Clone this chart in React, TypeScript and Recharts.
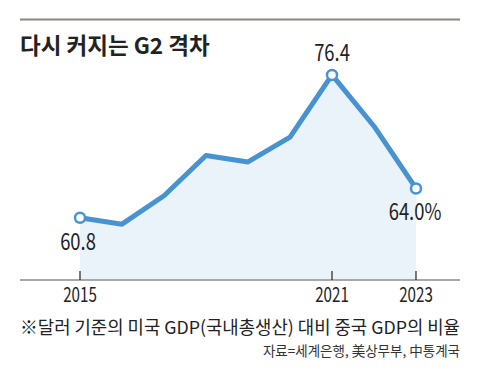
import React from "react";
import { ComposedChart, Area, XAxis, YAxis, LabelList } from "recharts";

const years = [2015, 2016, 2017, 2018, 2019, 2020, 2021, 2022, 2023];
const ratio = [60.8, 60.1, 63.2, 67.6, 66.9, 69.6, 76.4, 70.8, 64.0];
const valueLabels = ["60.8", "", "", "", "", "", "76.4", "", "64.0%"];
const markerYears = [2015, 2021, 2023];
const tickYears = [2015, 2021, 2023];

const title = "다시 커지는 G2 격차";
const footnote = "※달러 기준의 미국 GDP(국내총생산) 대비 중국 GDP의 비율";
const source = "자료=세계은행, 美상무부, 中통계국";

const data = years.map((y, i) => ({ year: y, value: ratio[i], label: valueLabels[i] }));

const BLUE = "#4793d1";
const NUM_FONT = "'Noto Sans CJK KR', sans-serif";
const KR_FONT = "'Noto Sans CJK KR', sans-serif";

const Dot = (props: any) => {
  const { cx, cy, payload } = props;
  if (!payload || !markerYears.includes(payload.year)) return <g />;
  return <circle cx={cx} cy={cy} r={5} fill="#fff" stroke={BLUE} strokeWidth={2.5} />;
};

const Tick = (props: any) => {
  const { x, y, payload } = props;
  return (
    <g>
      <line x1={x} x2={x} y1={y - 9} y2={y} stroke="#222" strokeWidth={1.2} />
      <text
        transform={`translate(${x},${y + 22}) scale(0.76,1)`}
        textAnchor="middle"
        fontSize={20}
        fontFamily={NUM_FONT}
        fill="#222"
      >
        {payload.value}
      </text>
    </g>
  );
};

const ValueLabel = (props: any) => {
  const { x, y, value, index } = props;
  if (!value) return null;
  let dx = 0;
  let dy = 32;
  if (index === 6) dy = -14;
  if (index === 0) dx = -2;
  if (index === 8) dx = -1;
  return (
    <text
      transform={`translate(${x + dx},${y + dy}) scale(0.8,1)`}
      textAnchor="middle"
      fontSize={23}
      fontFamily={NUM_FONT}
      fill="#222"
    >
      {value}
    </text>
  );
};

export default function App() {
  return (
    <div style={{ position: "absolute", left: 0, top: 0, width: 480, height: 390, background: "#fff" }}>
      <ComposedChart
        width={480}
        height={390}
        data={data}
        margin={{ top: 42, right: 20, bottom: 80, left: 20 }}
      >
        <XAxis
          dataKey="year"
          type="number"
          domain={[2015 - 60 / 42, 2023 + 44 / 42]}
          allowDataOverflow
          ticks={tickYears}
          tickLine={false}
          tickSize={0}
          tickMargin={0}
          height={30}
          axisLine={{ stroke: "#a8a8a8", strokeWidth: 2 }}
          tick={<Tick />}
          interval={0}
        />
        <YAxis hide domain={[54, 80]} allowDataOverflow />
        <Area
          type="linear"
          dataKey="value"
          stroke={BLUE}
          strokeWidth={5}
          strokeLinejoin="round"
          fill="#eaf2fa"
          fillOpacity={1}
          dot={<Dot />}
          activeDot={false}
          isAnimationActive={false}
        >
          <LabelList dataKey="label" content={<ValueLabel />} />
        </Area>
      </ComposedChart>
      <svg
        width={480}
        height={390}
        style={{ position: "absolute", left: 0, top: 0, pointerEvents: "none" }}
      >
        <line x1={20} x2={460} y1={19.5} y2={19.5} stroke="#8c8782" strokeWidth={2} />
        <text x={20} y={54} fontSize={22.5} fontWeight="bold" fontFamily={KR_FONT} fill="#222">
          {title}
        </text>
        <text x={20} y={334} fontSize={17.8} fontFamily={KR_FONT} fill="#222">
          {footnote}
        </text>
        <text x={460} y={356} fontSize={13.5} textAnchor="end" fontFamily={KR_FONT} fill="#333">
          {source}
        </text>
      </svg>
    </div>
  );
}
